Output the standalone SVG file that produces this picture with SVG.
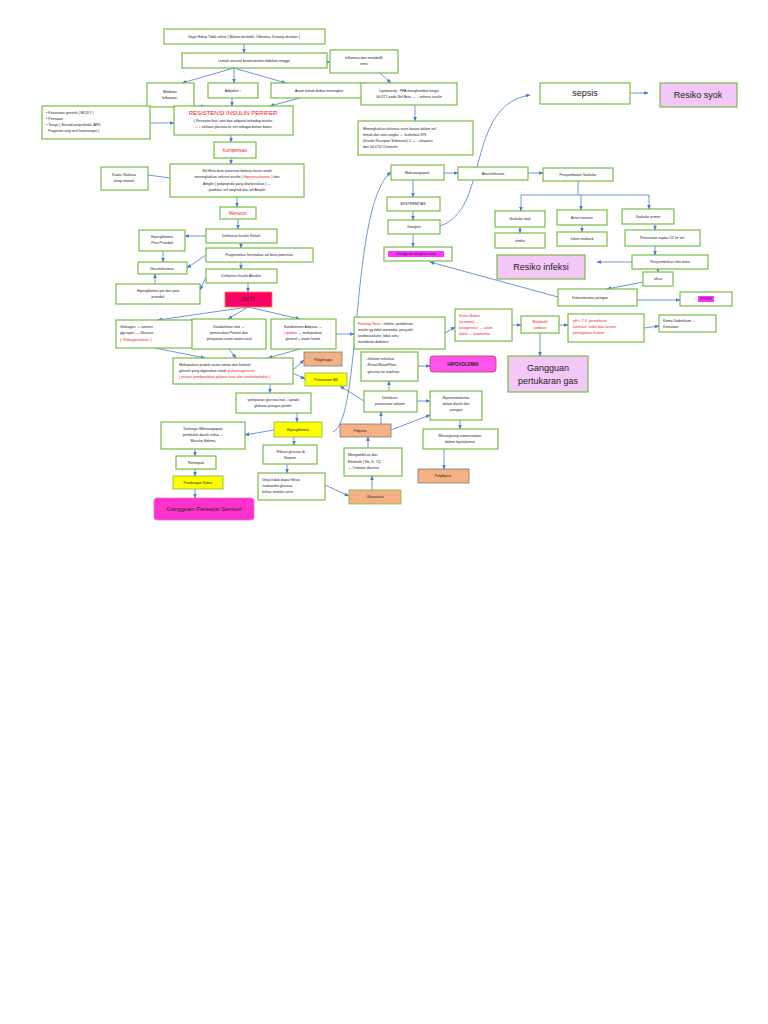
<svg xmlns="http://www.w3.org/2000/svg" width="768" height="1024" viewBox="0 0 768 1024">
<style>
.b{fill:#fff;stroke:#77bb44;stroke-width:1.2}
.t{font-family:"Liberation Sans",Arial,sans-serif;font-size:3.6px;fill:#222;text-anchor:middle}
.r{fill:#ee2222}
.big{font-size:9px}
.c path,.c line{stroke:#4a7bd0;stroke-width:0.8;fill:none;marker-end:url(#a)}
</style>
<defs><marker id="a" viewBox="0 0 10 10" refX="9" refY="5" markerWidth="6" markerHeight="6" orient="auto"><path d="M0 1L10 5L0 9z" fill="#4a7bd0"/></marker></defs>
<rect width="768" height="1024" fill="#fff"/>
<g class="c">
<line x1="244" y1="44" x2="244" y2="53"/><line x1="327" y1="62" x2="330" y2="62"/><line x1="380" y1="73" x2="391" y2="83"/>
<line x1="234" y1="68" x2="182" y2="83"/><line x1="234" y1="68" x2="234" y2="83"/><line x1="234" y1="68" x2="286" y2="83"/>
<line x1="180" y1="107" x2="205" y2="106"/><line x1="232" y1="98" x2="232" y2="106"/><line x1="300" y1="98" x2="270" y2="106"/>
<line x1="150" y1="123" x2="174" y2="123"/><line x1="231" y1="135" x2="231" y2="142"/><line x1="231" y1="158" x2="231" y2="164"/>
<path d="M148 175L170 178" style="marker-end:none"/><line x1="415" y1="105" x2="415" y2="121"/>
<line x1="237" y1="197" x2="237" y2="207"/><line x1="238" y1="219" x2="238" y2="229"/><line x1="206" y1="236" x2="185" y2="236"/>
<line x1="163" y1="251" x2="163" y2="262"/><line x1="206" y1="255" x2="187" y2="268"/><line x1="241" y1="243" x2="241" y2="248"/>
<line x1="241" y1="262" x2="241" y2="269"/><line x1="206" y1="277" x2="200" y2="290"/><line x1="155" y1="284" x2="155" y2="274"/>
<line x1="248" y1="283" x2="248" y2="292"/><line x1="248" y1="307" x2="158" y2="320"/><line x1="248" y1="307" x2="228" y2="319"/>
<line x1="248" y1="307" x2="300" y2="319"/><line x1="155" y1="348" x2="205" y2="358"/><line x1="229" y1="349" x2="236" y2="358"/>
<line x1="300" y1="349" x2="268" y2="358"/><line x1="336" y1="334" x2="354" y2="334"/><line x1="445" y1="333" x2="455" y2="327"/>
<line x1="512" y1="325" x2="521" y2="325"/><line x1="559" y1="325" x2="568" y2="325"/><line x1="644" y1="328" x2="659" y2="326"/>
<line x1="540" y1="333" x2="540" y2="356"/><line x1="293" y1="370" x2="304" y2="360"/><line x1="293" y1="373" x2="305" y2="379"/>
<line x1="270" y1="384" x2="270" y2="393"/><line x1="297" y1="413" x2="297" y2="422"/><line x1="274" y1="430" x2="245" y2="435"/>
<line x1="195" y1="449" x2="195" y2="456"/><line x1="195" y1="469" x2="195" y2="476"/><line x1="195" y1="489" x2="195" y2="498"/>
<line x1="294" y1="437" x2="294" y2="445"/><line x1="287" y1="464" x2="287" y2="473"/><line x1="325" y1="485" x2="349" y2="496"/>
<line x1="372" y1="490" x2="372" y2="476"/><line x1="368" y1="448" x2="368" y2="437"/><line x1="381" y1="424" x2="381" y2="412"/>
<line x1="391" y1="430" x2="430" y2="415"/><line x1="389" y1="391" x2="389" y2="381"/><line x1="418" y1="366" x2="430" y2="366"/>
<line x1="364" y1="401" x2="340" y2="386"/><line x1="417" y1="401" x2="430" y2="401"/><line x1="460" y1="420" x2="460" y2="429"/>
<line x1="444" y1="449" x2="444" y2="469"/>
<path d="M333 432C362 420 350 205 391 172"/>
<line x1="444" y1="173" x2="458" y2="173"/><line x1="528" y1="173" x2="543" y2="173"/>
<line x1="413" y1="180" x2="413" y2="197"/><line x1="413" y1="211" x2="413" y2="220"/><line x1="413" y1="234" x2="413" y2="247"/>
<path d="M440 226C490 210 465 105 530 95"/><line x1="630" y1="93" x2="648" y2="93"/>
<path d="M578 181V195M521 195H649" style="marker-end:none"/>
<line x1="521" y1="195" x2="521" y2="211"/><line x1="581" y1="195" x2="581" y2="210"/><line x1="649" y1="195" x2="649" y2="209"/>
<line x1="520" y1="227" x2="520" y2="233"/><line x1="582" y1="225" x2="582" y2="232"/><line x1="655" y1="224" x2="655" y2="230"/>
<line x1="655" y1="246" x2="655" y2="255"/><line x1="632" y1="262" x2="597" y2="262"/><line x1="658" y1="269" x2="658" y2="272"/>
<line x1="643" y1="282" x2="607" y2="289"/><line x1="558" y1="297" x2="430" y2="262"/><line x1="637" y1="300" x2="680" y2="300"/>
</g>
<g id="n1"><rect class="b" x="164" y="29" width="161" height="15"/><text class="t" x="244" y="38">Gaya Hidup Tidak sehat ( Makan berlebih, Obesitas, Kurang aktivitas )</text></g>
<g id="n2"><rect class="b" x="182" y="53" width="145" height="15"/><text class="t" x="254" y="62">Lemak visceral berakumulasi didalam rongga</text></g>
<g id="n3"><rect class="b" x="330" y="50" width="68" height="23"/><text class="t" x="364" y="59">Inflamasi dan metabolik</text><text class="t" x="364" y="65">stres</text></g>
<g id="n4"><rect class="b" x="147" y="83" width="47" height="24"/><text class="t" x="170" y="93">Mediator</text><text class="t" x="170" y="99">Inflamasi↑</text></g>
<g id="n5"><rect class="b" x="208" y="83" width="50" height="15"/><text class="t" x="233" y="92">Adipokin ↑</text></g>
<g id="n6"><rect class="b" x="271" y="83" width="96" height="15"/><text class="t" x="319" y="92">Asam lemak bebas meningkat</text></g>
<g id="n7"><rect class="b" x="361" y="83" width="96" height="22"/><text class="t" x="409" y="92">Lipotoxicity : FFA menghambat fungsi</text><text class="t" x="409" y="98">GLUT2 pada Sel Beta → ↓ sekresi insulin</text></g>
<g id="n8"><rect class="b" x="42" y="106" width="108" height="33"/><text class="t" style="text-anchor:start" x="46" y="114">• Keturunan genetik ( MODY )</text><text class="t" style="text-anchor:start" x="46" y="120">• Penuaan</text><text class="t" style="text-anchor:start" x="46" y="126">• Terapi ( Steroid,antipsikotik, ARV,</text><text class="t" style="text-anchor:start" x="48" y="132">Progestin-only oral kontrasepsi )</text></g>
<g id="n9"><rect class="b" x="174" y="106" width="119" height="29"/><text class="t r" style="font-size:6px" x="233" y="115">RESISTENSI INSULIN PERIFER</text><text class="t" x="233" y="122">( Reseptor hati, otot dan adiposit terhadap insulin</text><text class="t" x="233" y="128">→ ↓ utilisasi glucosa ke sel sebagai bahan bakar</text></g>
<g id="n10"><rect class="b" x="358" y="121" width="115" height="34"/><text class="t" style="text-anchor:start" x="363" y="130">Meningkatkan aktivitas serin kinase dalam sel</text><text class="t" style="text-anchor:start" x="363" y="136">lemak dan otot rangka → fosforilasi IRS</text><text class="t" style="text-anchor:start" x="363" y="142">(Insulin Receptor Substrate)-1 → ↓ ekspresi</text><text class="t" style="text-anchor:start" x="363" y="148">dari GLUT4 Channels</text></g>
<g id="n11"><rect class="b" x="214" y="142" width="42" height="16"/><text class="t r" style="font-size:4.5px" x="235" y="152">Kompensasi</text></g>
<g id="n12"><rect class="b" x="101" y="167" width="47" height="23"/><text class="t" x="124" y="176">Kadar Glukosa</text><text class="t" x="124" y="182">tetap normal</text></g>
<g id="n13"><rect class="b" x="170" y="164" width="134" height="33"/><text class="t" x="237" y="172">Sel Beta beta pancreas bekerja keras untuk</text><text class="t" x="237" y="178">meningkatkan sekresi insulin ( <tspan class="r">Hiperinsulinemia</tspan> ) dan</text><text class="t" x="237" y="185">Amylin ( polipeptida yang disekresikan ) →</text><text class="t" x="237" y="191">produksi sel amyloid dan sel Amylin</text></g>
<g id="n14"><rect class="b" x="391" y="165" width="53" height="15"/><text class="t" x="417" y="174">Makroangiopati</text></g>
<g id="n15"><rect class="b" x="458" y="167" width="70" height="13"/><text class="t" x="493" y="175">Aterosklerosis</text></g>
<g id="n16"><rect class="b" x="543" y="168" width="70" height="13"/><text class="t" x="578" y="176">Penyumbatan Vaskular</text></g>
<g id="n17"><rect class="b" x="540" y="83" width="90" height="21"/><text class="t big" x="585" y="96">sepsis</text></g>
<g id="n18"><rect class="b" x="660" y="83" width="77" height="24" style="fill:#f3c7f7"/><text class="t big" x="698" y="98">Resiko syok</text></g>
<g id="n19"><rect class="b" x="220" y="207" width="36" height="12"/><text class="t r" style="font-size:4.5px" x="238" y="215">Menurun</text></g>
<g id="n20"><rect class="b" x="206" y="229" width="71" height="14"/><text class="t" x="241" y="237">Defisiensi Insulin Relatif</text></g>
<g id="n21"><rect class="b" x="139" y="230" width="46" height="21"/><text class="t" x="162" y="238">Hiperglikemia</text><text class="t" x="162" y="244">Post-Prandial</text></g>
<g id="n22"><rect class="b" x="206" y="248" width="107" height="14"/><text class="t" x="259" y="256">Progresivitas kerusakan sel beta pancreas</text></g>
<g id="n23"><rect class="b" x="138" y="262" width="49" height="12"/><text class="t" x="162" y="270">Glucotoksisitas</text></g>
<g id="n24"><rect class="b" x="206" y="269" width="71" height="14"/><text class="t" x="241" y="277">Defisiensi Insulin Absolut</text></g>
<g id="n25"><rect class="b" x="116" y="284" width="84" height="20"/><text class="t" x="158" y="292">Hiperglikemia pre dan post</text><text class="t" x="158" y="298">prandial</text></g>
<g id="n26"><rect x="225" y="292" width="47" height="15" fill="#ff0066" stroke="#f08a3a" stroke-width="0.8"/><text class="t" style="font-size:4.5px" x="248" y="301">DM T2</text></g>
<g id="n27"><rect class="b" x="387" y="197" width="53" height="14"/><text class="t" x="413" y="205">EKSTREMITAS</text></g>
<g id="n28"><rect class="b" x="388" y="220" width="52" height="14"/><text class="t" x="414" y="228">Gangren</text></g>
<g id="n29"><rect class="b" x="384" y="247" width="68" height="14"/><rect x="388" y="251" width="56" height="6" fill="#ff33ff"/><text class="t" x="416" y="255">Gangguan integritas kulit</text></g>
<g id="n30"><rect class="b" x="495" y="211" width="50" height="16"/><text class="t" x="520" y="220">Vaskular otak</text></g>
<g id="n31"><rect class="b" x="495" y="233" width="50" height="15"/><text class="t" x="520" y="242">stroke</text></g>
<g id="n32"><rect class="b" x="557" y="210" width="50" height="15"/><text class="t" x="582" y="219">Arteri koroner</text></g>
<g id="n33"><rect class="b" x="557" y="232" width="50" height="14"/><text class="t" x="582" y="240">Infark miokard</text></g>
<g id="n34"><rect class="b" x="622" y="209" width="52" height="15"/><text class="t" x="648" y="218">Vaskular primer</text></g>
<g id="n35"><rect class="b" x="625" y="230" width="75" height="16"/><text class="t" x="662" y="239">Penurunan suplai O2 ke sel</text></g>
<g id="n36"><rect class="b" x="497" y="255" width="88" height="24" style="fill:#f3c7f7"/><text class="t big" x="541" y="270">Resiko infeksi</text></g>
<g id="n37"><rect class="b" x="632" y="255" width="76" height="14"/><text class="t" x="670" y="263">Penyembuhan luka lama</text></g>
<g id="n38"><rect class="b" x="643" y="272" width="30" height="14"/><text class="t" x="658" y="280">ulkus</text></g>
<g id="n39"><rect class="b" x="558" y="289" width="79" height="17"/><text class="t" x="590" y="299">Diskontinuitas jaringan</text></g>
<g id="n40"><rect class="b" x="680" y="292" width="52" height="14"/><rect x="698" y="296" width="16" height="6" fill="#ff33ff"/><text class="t" x="706" y="300">NYERI</text></g>
<g id="n41"><rect class="b" x="116" y="320" width="82" height="28"/><text class="t" style="text-anchor:start" x="120" y="328">Glukagon → convert</text><text class="t" style="text-anchor:start" x="120" y="334">glycogen → Glucose</text><text class="t r" style="text-anchor:start;font-size:4.3px" x="120" y="341">( Glikogenolisis )</text></g>
<g id="n42"><rect class="b" x="192" y="319" width="74" height="30"/><text class="t" x="229" y="328">Katabolisme otot →</text><text class="t" x="229" y="334">pemecahan Protein dan</text><text class="t" x="229" y="340">pelepasan asam amino acid</text></g>
<g id="n43"><rect class="b" x="271" y="319" width="65" height="30"/><text class="t" x="303" y="328">Katabolisme Adiposa →</text><text class="t" x="303" y="334"><tspan class="r">Lipolisis</tspan> → melepaskan</text><text class="t" x="303" y="340">gliserol + asam lemak</text></g>
<g id="n44"><rect class="b" x="354" y="317" width="91" height="32"/><text class="t" style="text-anchor:start" x="358" y="325"><tspan class="r">Fisiologi Stres</tspan> : Infeksi, pemberian</text><text class="t" style="text-anchor:start" x="358" y="331">insulin yg tidak memadai, penyakit</text><text class="t" style="text-anchor:start" x="358" y="337">kardiovaskuler, tidak tahu</text><text class="t" style="text-anchor:start" x="358" y="343">menderita diabetes</text></g>
<g id="n45"><rect class="b" x="455" y="309" width="57" height="32"/><text class="t r" style="text-anchor:start" x="459" y="317">Keton Bodies</text><text class="t r" style="text-anchor:start" x="459" y="323">(acetone) →</text><text class="t r" style="text-anchor:start" x="459" y="329">ketogenesis → asam</text><text class="t r" style="text-anchor:start" x="459" y="335">laktat → ketonemia</text></g>
<g id="n46"><rect class="b" x="521" y="316" width="38" height="17"/><text class="t r" x="540" y="323">Metabolik</text><text class="t r" x="540" y="329">asidosis</text></g>
<g id="n47"><rect class="b" x="568" y="314" width="76" height="28"/><text class="t r" style="text-anchor:start" x="573" y="322">pH &lt; 7,3, pernafasan</text><text class="t r" style="text-anchor:start" x="573" y="328">kusmaul, nafas bau aceton,</text><text class="t r" style="text-anchor:start" x="573" y="334">peningkatan Kalium</text></g>
<g id="n48"><rect class="b" x="659" y="315" width="57" height="17"/><text class="t" style="text-anchor:start" x="663" y="322">Koma Diabetikum →</text><text class="t" style="text-anchor:start" x="663" y="328">Kematian</text></g>
<g id="n49"><rect class="b" x="508" y="356" width="80" height="36" style="fill:#f3c7f7"/><text class="t big" x="548" y="371">Gangguan</text><text class="t big" x="548" y="384">pertukaran gas</text></g>
<g id="n50"><rect class="b" x="173" y="358" width="120" height="26"/><text class="t" style="text-anchor:start" x="179" y="366">Melepaskan produk asam amino dan kortisol</text><text class="t" style="text-anchor:start" x="179" y="372">gliserol yang digunakan untuk <tspan class="r">glukoneogenesis</tspan></text><text class="t r" style="text-anchor:start" x="179" y="378">( proses pembentukan glukosa baru dari nonkarbohidrat )</text></g>
<g id="n51"><rect x="304" y="352" width="38" height="14" fill="#f4b183" stroke="#7a7a7a" stroke-width="0.8"/><text class="t" x="323" y="361">Polyphagia</text></g>
<g id="n52"><rect x="305" y="373" width="42" height="13" fill="#ffff00" stroke="#77bb44" stroke-width="0.8"/><text class="t" x="326" y="381">Penurunan BB</text></g>
<g id="n53"><rect class="b" x="361" y="352" width="57" height="29"/><text class="t" style="text-anchor:start" x="366" y="360">↓Volume sirkulasi,</text><text class="t" style="text-anchor:start" x="366" y="366">↓Renal Blood Flow,</text><text class="t" style="text-anchor:start" x="366" y="373">↓glucosa ke nephron</text></g>
<g id="n54"><rect x="430" y="356" width="66" height="16" rx="3" fill="#ff55ee" stroke="#c04040" stroke-width="0.8"/><text class="t" style="font-size:4.5px;font-weight:bold" x="463" y="366">HIPOVOLEMIA</text></g>
<g id="n55"><rect class="b" x="236" y="393" width="75" height="20"/><text class="t" x="273" y="401">↑pelepasan glucosa hati, ↓uptake</text><text class="t" x="273" y="407">glukosa jaringan perifer</text></g>
<g id="n56"><rect class="b" x="364" y="391" width="53" height="21"/><text class="t" x="390" y="399">Dehidrasi,</text><text class="t" x="390" y="405">penurunan volume</text></g>
<g id="n57"><rect class="b" x="430" y="391" width="52" height="29"/><text class="t" x="456" y="399">Hiperosmolaritas</text><text class="t" x="456" y="405">dalam darah dan</text><text class="t" x="456" y="411">jaringan</text></g>
<g id="n58"><rect class="b" x="161" y="422" width="84" height="27"/><text class="t" x="203" y="430">Disfungsi Mikroangiopati</text><text class="t" x="203" y="436">pembuluh darah retina →</text><text class="t" x="203" y="442">Macular Edema</text></g>
<g id="n59"><rect x="274" y="422" width="48" height="15" fill="#ffff00" stroke="#77bb44" stroke-width="0.8"/><text class="t" x="298" y="431">Hiperglikemia</text></g>
<g id="n60"><rect x="340" y="424" width="51" height="13" fill="#f4b183" stroke="#7a7a7a" stroke-width="0.8"/><text class="t" x="360" y="432">Polyuria</text></g>
<g id="n61"><rect class="b" x="423" y="429" width="75" height="20"/><text class="t" x="460" y="437">Merangsang osmoreseptor</text><text class="t" x="460" y="443">dalam hipotalamus</text></g>
<g id="n62"><rect class="b" x="263" y="445" width="54" height="19"/><text class="t" x="290" y="453">↑Filtrasi glucosa di</text><text class="t" x="290" y="459">Nepron</text></g>
<g id="n63"><rect class="b" x="344" y="448" width="58" height="28"/><text class="t" style="text-anchor:start" x="348" y="456">Mengambil air dan</text><text class="t" style="text-anchor:start" x="348" y="463">Elektrolit ( Na, K, Cl)</text><text class="t" style="text-anchor:start" x="348" y="469">→ Osmotic diuresis</text></g>
<g id="n64"><rect class="b" x="176" y="456" width="40" height="13"/><text class="t" x="196" y="464">Retinopati</text></g>
<g id="n65"><rect x="418" y="469" width="51" height="14" fill="#f4b183" stroke="#7a7a7a" stroke-width="0.8"/><text class="t" x="443" y="477">Polydipsia</text></g>
<g id="n66"><rect class="b" x="258" y="473" width="67" height="27"/><text class="t" style="text-anchor:start" x="262" y="481">Ginjal tidak dapat filtrasi</text><text class="t" style="text-anchor:start" x="262" y="487">reabsorbsi glucosa,</text><text class="t" style="text-anchor:start" x="262" y="493">keluar melalui urine</text></g>
<g id="n67"><rect x="173" y="476" width="50" height="13" fill="#ffff00" stroke="#77bb44" stroke-width="0.8"/><text class="t" x="198" y="484">Pandangan Kabur</text></g>
<g id="n68"><rect x="349" y="490" width="52" height="14" fill="#f4b183" stroke="#77bb44" stroke-width="0.8"/><text class="t" x="375" y="498">Glucosuria</text></g>
<g id="n69"><rect x="154" y="498" width="100" height="22" rx="3" fill="#ff33cc" stroke="#ee66ee" stroke-width="0.8"/><text class="t" style="font-size:6px" x="204" y="511">Gangguan Persepsi Sensori</text></g>
</svg>
